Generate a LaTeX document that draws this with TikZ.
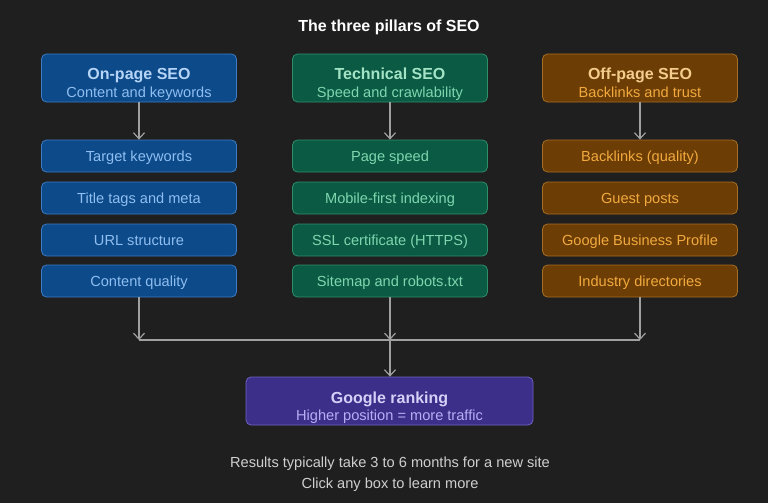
\documentclass[tikz,border=0pt]{standalone}
\usepackage{fontspec}
\setmainfont{Liberation Sans}
\usetikzlibrary{arrows.meta}
\definecolor{bg}{HTML}{1F1F1F}
\definecolor{bfill}{HTML}{0C4A8A}\definecolor{bline}{HTML}{3D7BC4}\definecolor{btext}{HTML}{B5D4F6}\definecolor{bsub}{HTML}{8FBEF0}
\definecolor{gfill}{HTML}{0B5A44}\definecolor{gline}{HTML}{2E8E6A}\definecolor{gtext}{HTML}{A4E4C6}\definecolor{gsub}{HTML}{7FD6AE}
\definecolor{ofill}{HTML}{6C3E06}\definecolor{oline}{HTML}{A86E22}\definecolor{otext}{HTML}{F4CC8C}\definecolor{osub}{HTML}{F2A93E}
\definecolor{pfill}{HTML}{3B2F8A}\definecolor{pline}{HTML}{6F62C4}\definecolor{ptext}{HTML}{D6D0F8}\definecolor{psub}{HTML}{B8ADF4}
\definecolor{conn}{HTML}{A0A0A0}
\definecolor{foot}{HTML}{CFCFCF}
\begin{document}
\begin{tikzpicture}[x=1pt,y=-1pt,
  box/.style={rounded corners=5pt, line width=0.8pt, minimum width=195pt, inner sep=0pt},
  head/.style={box, minimum height=48pt},
  item/.style={box, minimum height=32pt, font=\fontsize{14.6}{17}\selectfont, text height=10pt, text depth=0pt},
  htitle/.style={anchor=base, font=\fontsize{16}{18}\selectfont\bfseries, inner sep=0pt},
  hsub/.style={anchor=base, font=\fontsize{14.6}{17}\selectfont, inner sep=0pt},
  bluebox/.style={fill=bfill, draw=bline, text=btext},
  greenbox/.style={fill=gfill, draw=gline, text=gtext},
  orangebox/.style={fill=ofill, draw=oline, text=osub},
  arr/.style={draw=conn, line width=1.2pt, -{Straight Barb[length=6pt,width=11pt]}},
  ln/.style={draw=conn, line width=1.2pt},
  foottxt/.style={text=foot, font=\fontsize{14.6}{17}\selectfont, anchor=base, inner sep=0pt}
]
\fill[bg] (0,0) rectangle (768,503);
\useasboundingbox (0,0) rectangle (768,503);
\node[text=white, font=\fontsize{16}{19}\selectfont\bfseries, anchor=base, inner sep=0pt] (title) at (389,32) {The three pillars of SEO};

\node[head, bluebox] (h1) at (139,78) {};
\node[htitle, text=btext] (h1t) at (139,80) {On-page SEO};
\node[hsub, text=bsub] (h1s) at (139,97) {Content and keywords};
\node[head, greenbox] (h2) at (390,78) {};
\node[htitle, text=gtext] (h2t) at (390,80) {Technical SEO};
\node[hsub, text=gsub] (h2s) at (390,97) {Speed and crawlability};
\node[head, orangebox] (h3) at (640,78) {};
\node[htitle, text=otext] (h3t) at (640,80) {Off-page SEO};
\node[hsub, text=osub] (h3s) at (640,97) {Backlinks and trust};

\node[item, bluebox, text=bsub] (a1) at (139,156) {Target keywords};
\node[item, bluebox, text=bsub] (a2) at (139,198) {Title tags and meta};
\node[item, bluebox, text=bsub] (a3) at (139,240) {URL structure};
\node[item, bluebox, text=bsub] (a4) at (139,281) {Content quality};

\node[item, greenbox, text=gsub] (b1) at (390,156) {Page speed};
\node[item, greenbox, text=gsub] (b2) at (390,198) {Mobile-first indexing};
\node[item, greenbox, text=gsub] (b3) at (390,240) {SSL certificate (HTTPS)};
\node[item, greenbox, text=gsub] (b4) at (390,281) {Sitemap and robots.txt};

\node[item, orangebox] (c1) at (640,156) {Backlinks (quality)};
\node[item, orangebox] (c2) at (640,198) {Guest posts};
\node[item, orangebox] (c3) at (640,240) {Google Business Profile};
\node[item, orangebox] (c4) at (640,281) {Industry directories};

\node[box, minimum width=287pt, minimum height=48pt, fill=pfill, draw=pline] (g) at (389.5,401) {};
\node[htitle, text=ptext] (gt) at (389.5,403) {Google ranking};
\node[hsub, text=psub] (gs) at (389.5,420) {Higher position = more traffic};

\coordinate (j1) at (139,340);
\coordinate (j2) at (390,340);
\coordinate (j3) at (640,340);

\draw[arr] (h1) -- (a1);
\draw[arr] (h2) -- (b1);
\draw[arr] (h3) -- (c1);
\draw[arr] (a4) -- (j1);
\draw[arr] (b4) -- (j2);
\draw[arr] (c4) -- (j3);
\draw[ln] (j1) -- (j3);
\draw[arr] (j2) -- (j2 |- g.north);

\node[foottxt] (f1) at (390,467) {Results typically take 3 to 6 months for a new site};
\node[foottxt] (f2) at (390,488) {Click any box to learn more};
\end{tikzpicture}
\end{document}
